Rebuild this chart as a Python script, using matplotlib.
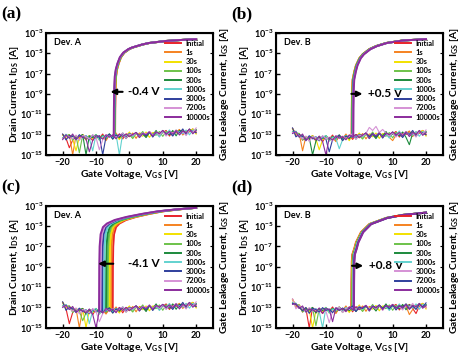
#Importing Libraries
import numpy as np
import matplotlib.pyplot as plt
from matplotlib.ticker import FixedLocator, NullFormatter

plt.rcParams['font.family'] = ['Lato', 'DejaVu Sans']
plt.rcParams['font.weight'] = 'bold'
plt.rcParams['axes.labelweight'] = 'bold'
plt.rcParams['mathtext.fontset'] = 'custom'
plt.rcParams['mathtext.rm'] = 'Lato:bold'
plt.rcParams['mathtext.it'] = 'Lato:bold'
plt.rcParams['mathtext.bf'] = 'Lato:bold'
plt.rcParams['mathtext.default'] = 'bf'

# stress times (legend)
labels = ['Initial', '1s', '30s', '100s', '300s', '1000s', '3000s', '7200s', '10000s']
colors = ['#e8232a', '#f58220', '#f2e100', '#6cc24a', '#1c8a3c',
          '#62d2cf', '#2f3f9c', '#d592d5', '#8b2c9c']
# in (d) the 3000s / 7200s colours are swapped
colors_d = ['#e8232a', '#f58220', '#f2e100', '#6cc24a', '#1c8a3c',
            '#62d2cf', '#d592d5', '#2f3f9c', '#8b2c9c']

# gate sweep, 1 V step
vg = list(range(-20, 21))

# gate leakage floor (log10 A) for each panel
floor_a = [-13.1, -13.15, -13.2, -13.2, -13.2, -13.2, -13.2, -13.2, -13.2, -13.2, -13.2, -13.2, -13.2, -13.2, -13.15, -13.1,
           -13.1, -13.1, -13.05, -13.05, -13.0, -13.0, -13.0, -12.95, -12.95, -12.9, -12.9, -12.9, -12.85, -12.85,
           -12.8, -12.8, -12.8, -12.75, -12.75, -12.7, -12.7, -12.7, -12.65, -12.65, -12.6]
floor_b = [-12.5, -12.85, -13.1, -13.2, -13.3, -13.3, -13.3, -13.3, -13.3, -13.3, -13.3, -13.3, -13.3, -13.3, -13.25, -13.25, -13.2, -13.2,
           -13.1, -13.1, -13.1, -13.05, -13.05, -13.05, -13.0, -13.0, -13.0, -13.0, -12.95, -12.95, -12.95,
           -12.9, -12.9, -12.9, -12.9, -12.85, -12.85, -12.85, -12.8, -12.8, -12.8]
floor_c = [-12.6, -12.9, -13.05, -13.15, -13.2, -13.25, -13.3, -13.3, -13.3, -13.3, -13.3, -13.3, -13.3, -13.25, -13.25, -13.2,
           -13.2, -13.15, -13.15, -13.1, -13.1, -13.05, -13.05, -13.0, -13.0, -13.0, -12.95, -12.95, -12.9, -12.9,
           -12.9, -12.85, -12.85, -12.8, -12.8, -12.8, -12.75, -12.75, -12.7, -12.7, -12.7]
floor_d = [-12.3, -12.75, -12.95, -13.1, -13.15, -13.2, -13.2, -13.2, -13.2, -13.2, -13.2, -13.2, -13.2, -13.2, -13.15, -13.15, -13.1, -13.1,
           -13.05, -13.05, -13.0, -13.0, -13.0, -13.0, -12.95, -12.95, -12.95, -12.95, -12.9, -12.9, -12.9,
           -12.9, -12.9, -12.85, -12.85, -12.85, -12.85, -12.8, -12.8, -12.8, -12.8]

jitter = [0.10, -0.22, 0.15, -0.35, 0.05, -0.12, 0.20, -0.28, 0.00, -0.40, 0.12, -0.15, 0.25, -0.30,
          0.05, -0.05, -0.22, 0.15, -0.38, 0.10, 0.00, -0.25, 0.18, -0.10, 0.05, -0.32, 0.15, -0.15,
          0.10, -0.20, 0.00, 0.20, -0.35, 0.05, -0.10, 0.15, -0.25, 0.10, -0.05, 0.20, -0.15]

# deep spikes: (series, V_GS, log10 I)
spikes_a = [(0, -18, -14.3), (1, -17, -15.0), (2, -16, -14.6), (3, -15, -14.8), (4, -13, -15.0),
            (8, -12, -14.7), (5, -11, -14.6), (7, -9, -14.5), (6, -8, -15.0), (5, -3, -15.0)]
spikes_b = [(1, -17, -14.6), (4, -14, -15.0), (2, -12, -14.5), (8, -10, -15.0), (6, -9, -14.7),
            (5, -6, -14.4), (7, 3, -12.3), (7, 4, -12.6), (7, 5, -12.2), (7, 7, -12.5), (4, 15, -14.0), (1, 10, -13.6)]
spikes_c = [(0, -18, -14.6), (1, -15, -15.0), (2, -13, -15.0), (5, -12, -14.6), (8, -10, -15.0),
            (7, -9, -14.4), (3, -14, -14.3)]
spikes_d = [(0, -15, -15.0), (2, -14, -15.0), (3, -13, -14.8), (5, -11, -15.0), (6, -9, -14.5),
            (8, -8, -14.4), (1, 15, -13.7), (0, 17, -13.6)]

# threshold voltage of each stress step
vth_a = [-4.3, -4.35, -4.4, -4.45, -4.5, -4.55, -4.6, -4.65, -4.7]
vth_b = [-2.3, -2.25, -2.2, -2.15, -2.1, -2.0, -1.95, -1.85, -1.8]
vth_c = [-5.0, -5.5, -6.0, -6.5, -7.0, -7.6, -8.2, -8.7, -9.1]
vth_d = [-2.4, -2.3, -2.2, -2.1, -2.0, -1.9, -1.8, -1.7, -1.6]

# initial transfer curve, (V_GS, log10 I_DS)
on_x_a = [-4.3, -4.25, -4.15, -4.0, -3.7, -3.2, -2.5, -1.5, 0, 1, 4, 6, 11, 17, 20]
on_y_a = [-13.1, -10.5, -8.5, -7.3, -6.6, -6.0, -5.4, -4.95, -4.6, -4.45, -4.15, -4.0, -3.8, -3.67, -3.63]
on_x_b = [-2.3, -2.25, -2.15, -2.0, -1.5, -1.0, 0.0, 1.0, 3.0, 5.0, 8.0, 13.0, 20.0]
on_y_b = [-13.2, -10.5, -8.5, -7.6, -6.8, -6.2, -5.5, -5.1, -4.6, -4.3, -4.0, -3.75, -3.62]
on_x_c = [-5.0, -4.95, -4.85, -4.6, -4.0, -3.0, -1.0, 2.0, 6.0, 10.0, 15.0, 20.0]
on_y_c = [-13.3, -9.0, -7.0, -5.8, -5.1, -4.75, -4.4, -4.1, -3.8, -3.55, -3.35, -3.2]
on_x_d = [-2.4, -2.35, -2.25, -2.1, -1.5, -1.0, 0.5, 3.0, 8.0, 13.0, 17.7, 20.0]
on_y_d = [-13.2, -10.5, -8.5, -7.8, -7.2, -6.6, -5.6, -4.8, -4.2, -3.9, -3.75, -3.67]

panels = [
    ('(a)', 'Dev. A', floor_a, spikes_a, vth_a, on_x_a, on_y_a, colors, '-0.4 V', (-1.2, -6.5, -0.5, -8.8)),
    ('(b)', 'Dev. B', floor_b, spikes_b, vth_b, on_x_b, on_y_b, colors, '+0.5 V', (-3.2, 1.8, 2.5, -9.0)),
    ('(c)', 'Dev. A', floor_c, spikes_c, vth_c, on_x_c, on_y_c, colors, '-4.1 V', (-4.0, -10.2, -0.5, -8.7)),
    ('(d)', 'Dev. B', floor_d, spikes_d, vth_d, on_x_d, on_y_d, colors_d, '+0.8 V', (-3.0, 2.0, 2.8, -8.9)),
]
boxes = [[0.097, 0.571, 0.352, 0.338], [0.582, 0.571, 0.352, 0.338],
         [0.097, 0.092, 0.352, 0.338], [0.582, 0.092, 0.352, 0.338]]

fig = plt.figure(figsize=(4.74, 3.61), dpi=100)

for (tag, dev, floor, spikes, vth, onx, ony, cols, shift, arr), box in zip(panels, boxes):
    ax = fig.add_axes(box)
    ax2 = ax.twinx()
    v0 = vth[0]
    for k in range(len(labels)):
        # gate leakage trace
        g = np.array(floor) + np.roll(jitter, 4 * k)
        for s, x, y in spikes:
            if s == k:
                g[vg.index(x)] = y
        ax.plot(vg, 10.0 ** g, color=cols[k], lw=0.8)
        # drain current, shifted by the stress
        xs = [vth[k] + (x - v0) * (20 - vth[k]) / (20 - v0) for x in onx]
        ax.plot(xs, 10.0 ** np.array(ony), color=cols[k], lw=1.4, label=labels[k])

    ax.set_yscale('log')
    ax.set_xlim(-25, 25)
    ax.set_ylim(1e-15, 1e-3)
    ax.yaxis.set_major_locator(FixedLocator([10.0 ** e for e in range(-15, -2, 2)]))
    ax.set_yticklabels(['$10^{%d}$' % e for e in range(-15, -2, 2)])
    ax.yaxis.set_minor_formatter(NullFormatter())
    ax.set_xticks([-20, -10, 0, 10, 20])
    ax.tick_params(axis='both', labelsize=6.5, direction='in', length=3, width=1, pad=2)
    ax.tick_params(axis='y', which='minor', left=False)
    ax.set_xlabel('Gate Voltage, V$_{GS}$ [V]', fontsize=7.4, labelpad=1)
    ax.set_ylabel('Drain Current, I$_{DS}$ [A]', fontsize=7.4)
    ax.yaxis.set_label_coords(-0.15, 0.5)

    ax2.set_yscale('log')
    ax2.set_ylim(1e-15, 1e-3)
    ax2.yaxis.set_major_locator(FixedLocator([10.0 ** e for e in range(-15, -2, 2)]))
    ax2.yaxis.set_major_formatter(NullFormatter())
    ax2.yaxis.set_minor_formatter(NullFormatter())
    ax2.tick_params(axis='y', which='both', direction='in', length=2, width=0.8)
    ax2.set_ylabel('Gate Leakage Current, I$_{GS}$ [A]', fontsize=7.4)
    ax2.yaxis.set_label_coords(1.03, 0.5)

    for sp in ax.spines.values():
        sp.set_linewidth(1.5)

    ax.text(0.05, 0.92, dev, transform=ax.transAxes, fontsize=6.5, fontweight='bold', va='center')
    ax.annotate('', xy=(arr[1], 10.0 ** arr[3]), xytext=(arr[0], 10.0 ** arr[3]),
                arrowprops=dict(arrowstyle='-|>', lw=1.5, color='k', mutation_scale=8))
    ax.text(arr[2], 10.0 ** arr[3], shift, fontsize=8.5, fontweight='bold', va='center')

    ax.legend(loc='upper left', bbox_to_anchor=(0.69, 0.975), frameon=False,
              prop={'size': 5.4, 'weight': 'bold'},
              handlelength=2.2, labelspacing=0.3, handletextpad=0.6, borderaxespad=0.1)

    fig.text(box[0] - 0.095, box[1] + box[3] + 0.05, tag, family='Liberation Serif',
             fontsize=12.5, fontweight='bold', va='center')

plt.savefig('out.png', dpi=100)
